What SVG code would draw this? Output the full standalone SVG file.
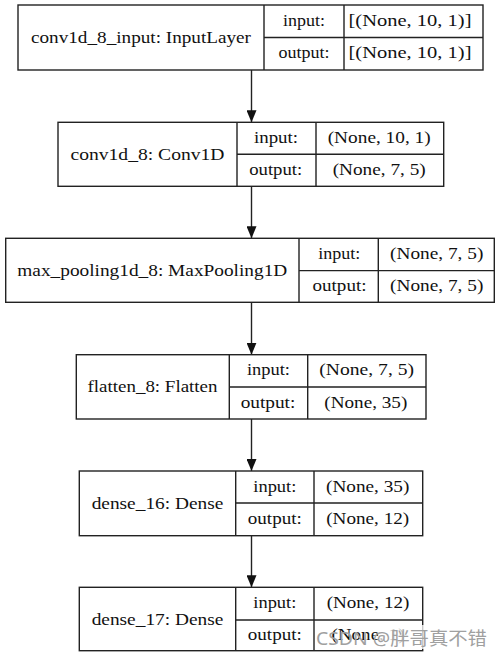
<svg xmlns="http://www.w3.org/2000/svg" width="503" height="657" viewBox="0 0 503 657">
<defs>
<style>
.box{fill:#fff;stroke:#222;stroke-width:1.4}
.ln{stroke:#222;stroke-width:1.4;fill:none}
.t{font-family:'Liberation Serif','DejaVu Serif','Times New Roman',serif;font-size:17px;fill:#111;text-anchor:middle}
.wm{font-family:'Noto Sans','Noto Sans CJK SC',sans-serif;font-size:18px;fill:#a0a0a0}
</style>
<marker id="ah" markerUnits="userSpaceOnUse" markerWidth="12" markerHeight="10" refX="12" refY="5" orient="auto">
<path d="M0,0 L12,5 L0,10 z" fill="#111"/>
</marker>
</defs>
<rect width="503" height="657" fill="#fff"/>
<g id="connectors">
<line class="ln" x1="251.5" y1="70" x2="251.5" y2="122.3" marker-end="url(#ah)"/>
<line class="ln" x1="251.5" y1="186.3" x2="251.5" y2="238.3" marker-end="url(#ah)"/>
<line class="ln" x1="251.5" y1="302.3" x2="251.5" y2="354.7" marker-end="url(#ah)"/>
<line class="ln" x1="251.5" y1="419" x2="251.5" y2="471" marker-end="url(#ah)"/>
<line class="ln" x1="251.5" y1="535.7" x2="251.5" y2="587.3" marker-end="url(#ah)"/>
</g>
<g id="node-conv1d_8_input">
<rect class="box" x="18" y="5" width="465" height="65"/>
<path class="ln" d="M264,5 V70 M344,5 V70 M264,37.5 H483"/>
<text class="t" x="141" y="43" textLength="220" lengthAdjust="spacingAndGlyphs">conv1d_8_input: InputLayer</text>
<text class="t" x="304" y="26" textLength="42" lengthAdjust="spacingAndGlyphs">input:</text>
<text class="t" x="304" y="58" textLength="51" lengthAdjust="spacingAndGlyphs">output:</text>
<text class="t" x="410" y="26" textLength="123" lengthAdjust="spacingAndGlyphs">[(None, 10, 1)]</text>
<text class="t" x="410" y="58" textLength="123" lengthAdjust="spacingAndGlyphs">[(None, 10, 1)]</text>
</g>
<g id="node-conv1d_8">
<rect class="box" x="58" y="122.3" width="385.7" height="64"/>
<path class="ln" d="M237,122.3 V186.3 M316,122.3 V186.3 M237,154.3 H443.7"/>
<text class="t" x="147.5" y="159.5" textLength="154" lengthAdjust="spacingAndGlyphs">conv1d_8: Conv1D</text>
<text class="t" x="276" y="142.8" textLength="44" lengthAdjust="spacingAndGlyphs">input:</text>
<text class="t" x="275.7" y="174.8" textLength="53" lengthAdjust="spacingAndGlyphs">output:</text>
<text class="t" x="379.2" y="142.8" textLength="103" lengthAdjust="spacingAndGlyphs">(None, 10, 1)</text>
<text class="t" x="379.2" y="174.8" textLength="93" lengthAdjust="spacingAndGlyphs">(None, 7, 5)</text>
</g>
<g id="node-max_pooling1d_8">
<rect class="box" x="5.7" y="238.3" width="488.6" height="64"/>
<path class="ln" d="M299,238.3 V302.3 M378.3,238.3 V302.3 M299,270.6 H494.3"/>
<text class="t" x="152.3" y="275.8" textLength="270" lengthAdjust="spacingAndGlyphs">max_pooling1d_8: MaxPooling1D</text>
<text class="t" x="339.2" y="259.1" textLength="42" lengthAdjust="spacingAndGlyphs">input:</text>
<text class="t" x="339.5" y="291" textLength="54" lengthAdjust="spacingAndGlyphs">output:</text>
<text class="t" x="436.7" y="259.1" textLength="93.3" lengthAdjust="spacingAndGlyphs">(None, 7, 5)</text>
<text class="t" x="436.7" y="291" textLength="93.3" lengthAdjust="spacingAndGlyphs">(None, 7, 5)</text>
</g>
<g id="node-flatten_8">
<rect class="box" x="76.3" y="354.7" width="349.7" height="64.3"/>
<path class="ln" d="M229.3,354.7 V419 M307.7,354.7 V419 M229.3,387 H426"/>
<text class="t" x="152.5" y="392" textLength="130" lengthAdjust="spacingAndGlyphs">flatten_8: Flatten</text>
<text class="t" x="268.4" y="375.3" textLength="43" lengthAdjust="spacingAndGlyphs">input:</text>
<text class="t" x="268" y="407.5" textLength="54.7" lengthAdjust="spacingAndGlyphs">output:</text>
<text class="t" x="366.7" y="375.3" textLength="94.7" lengthAdjust="spacingAndGlyphs">(None, 7, 5)</text>
<text class="t" x="365.8" y="407.5" textLength="83" lengthAdjust="spacingAndGlyphs">(None, 35)</text>
</g>
<g id="node-dense_16">
<rect class="box" x="79.3" y="471" width="343.4" height="64.7"/>
<path class="ln" d="M235.7,471 V535.7 M314,471 V535.7 M235.7,503 H422.7"/>
<text class="t" x="157.5" y="508.5" textLength="131.7" lengthAdjust="spacingAndGlyphs">dense_16: Dense</text>
<text class="t" x="274.8" y="491.5" textLength="43" lengthAdjust="spacingAndGlyphs">input:</text>
<text class="t" x="274.8" y="523.8" textLength="54" lengthAdjust="spacingAndGlyphs">output:</text>
<text class="t" x="367.7" y="491.5" textLength="83.3" lengthAdjust="spacingAndGlyphs">(None, 35)</text>
<text class="t" x="367.7" y="523.8" textLength="83" lengthAdjust="spacingAndGlyphs">(None, 12)</text>
</g>
<g id="node-dense_17">
<rect class="box" x="79.3" y="587.3" width="343.4" height="63.4"/>
<path class="ln" d="M235.7,587.3 V650.7 M314,587.3 V650.7 M235.7,620 H422.7"/>
<text class="t" x="157.5" y="624.5" textLength="131.7" lengthAdjust="spacingAndGlyphs">dense_17: Dense</text>
<text class="t" x="274.8" y="608.2" textLength="43" lengthAdjust="spacingAndGlyphs">input:</text>
<text class="t" x="274.8" y="639.8" textLength="54" lengthAdjust="spacingAndGlyphs">output:</text>
<text class="t" x="368" y="608.2" textLength="82.7" lengthAdjust="spacingAndGlyphs">(None, 12)</text>
<text class="t" x="368" y="639.8" textLength="73" lengthAdjust="spacingAndGlyphs">(None, 1)</text>
</g>
<g id="watermark">
<rect x="378" y="625" width="110" height="24" fill="#fff" opacity="0.75"/>
<text class="wm" x="316" y="645" textLength="171" lengthAdjust="spacingAndGlyphs">CSDN @胖哥真不错</text>
</g>
</svg>
